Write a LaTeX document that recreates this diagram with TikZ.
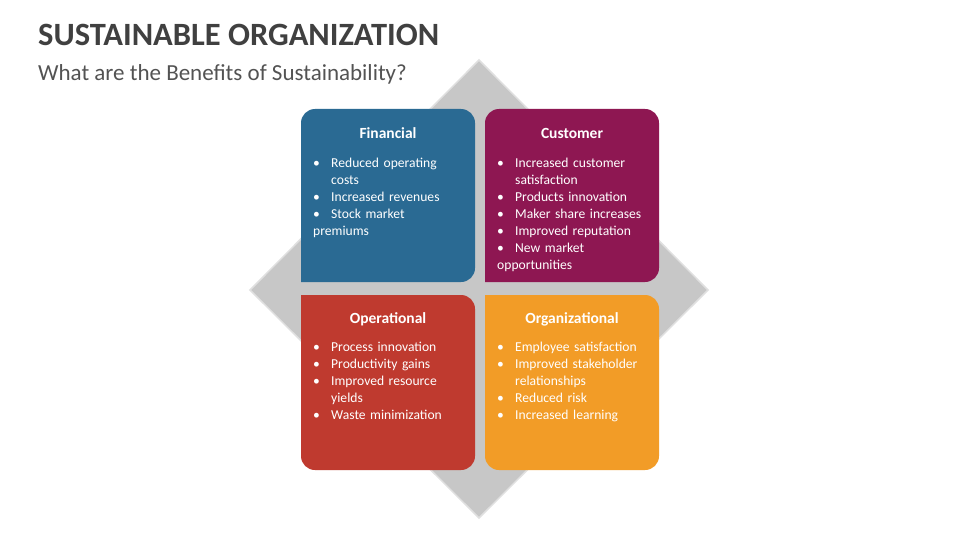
\documentclass[tikz,border=0pt]{standalone}
\usepackage{fontspec}
\setmainfont{Carlito}
\hyphenpenalty=10000
\exhyphenpenalty=10000
\definecolor{fin}{HTML}{2A6A93}
\definecolor{cus}{HTML}{8E1752}
\definecolor{ope}{HTML}{BF3A2F}
\definecolor{org}{HTML}{F29C27}
\definecolor{ttl}{HTML}{404040}
\newcommand{\bl}[1]{\par\hangindent=18pt\hangafter=1\noindent\makebox[18pt][l]{\textbullet}#1}
\tikzset{
 head/.style={text=white,font=\fontsize{15.5}{18}\selectfont\bfseries,anchor=center},
 body/.style={text=white,font=\fontsize{13.6}{17}\selectfont,anchor=north west,text width=150pt,align=left,inner sep=0pt},
}
\begin{document}
\begin{tikzpicture}[x=1pt,y=-1pt]
\useasboundingbox (0,0) rectangle (960,540);
\fill[white] (0,0) rectangle (960,540);
\node[anchor=west,text=ttl,font=\fontsize{32.5}{36}\selectfont\bfseries,inner sep=0pt] (t) at (38,35) {SUSTAINABLE ORGANIZATION};
\node[anchor=west,text=ttl!90,font=\fontsize{23}{26}\selectfont,inner sep=0pt] (s) at (38,74) {What are the Benefits of Sustainability?};
\draw[fill=black!22,draw=black!12,line width=1.5pt] (479,60) -- (708,290) -- (479,518) -- (250,290) -- cycle;
\fill[fin,rounded corners=14pt] (301,282) -- (301,109) -- (475,109) -- (475,282) [sharp corners] -- cycle;
\fill[cus,rounded corners=14pt] (485,282) -- (485,109) -- (659,109) -- (659,282) [sharp corners] -- cycle;
\fill[ope,rounded corners=14pt] (301,295) -- (301,470) -- (475,470) -- (475,295) [sharp corners] -- cycle;
\fill[org,rounded corners=14pt] (485,295) -- (485,470) -- (659,470) -- (659,295) [sharp corners] -- cycle;
\node[head] (h1) at (388,133) {Financial};
\node[head] (h2) at (572,133) {Customer};
\node[head] (h3) at (388,319) {Operational};
\node[head] (h4) at (572,319) {Organizational};
\node[body] (b1) at (313,150) {\bl{Reduced operating costs}\bl{Increased revenues}\bl{Stock market premiums}};
\node[body] (b2) at (497,150) {\bl{Increased customer satisfaction}\bl{Products innovation}\bl{Maker share increases}\bl{Improved reputation}\bl{New market opportunities}};
\node[body] (b3) at (313,334) {\bl{Process innovation}\bl{Productivity gains}\bl{Improved resource yields}\bl{Waste minimization}};
\node[body] (b4) at (497,334) {\bl{Employee satisfaction}\bl{Improved stakeholder relationships}\bl{Reduced risk}\bl{Increased learning}};
\end{tikzpicture}
\end{document}
